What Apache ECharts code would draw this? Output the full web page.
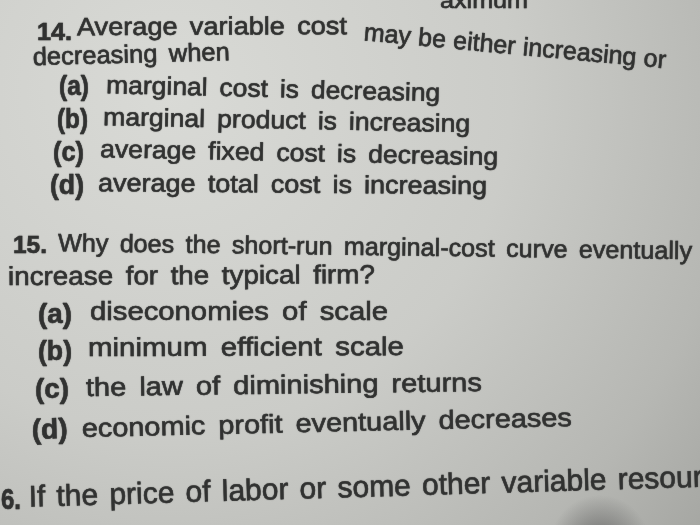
<!DOCTYPE html>
<html><head><meta charset="utf-8">
<script src="https://cdn.jsdelivr.net/npm/echarts@6/dist/echarts.min.js"></script>
<style>html,body{margin:0;padding:0;background:#c9cac6}#c{width:700px;height:525px}</style>
</head><body><div id="c"></div>
<script>
// ---- text content (read from the photographed page) ----
const headerFragment = ['aximum'];
const q14Number = ['14.'];
const q14Stem = ['Average variable cost', 'may be either increasing or', 'decreasing when'];
const q14Labels = ['(a)', '(b)', '(c)', '(d)'];
const q14Choices = ['marginal cost is decreasing', 'marginal product is increasing', 'average fixed cost is decreasing', 'average total cost is increasing'];
const q15Number = ['15.'];
const q15Stem = ['Why does the short-run marginal-cost curve eventually', 'increase for the typical firm?'];
const q15Labels = ['(a)', '(b)', '(c)', '(d)'];
const q15Choices = ['diseconomies of scale', 'minimum efficient scale', 'the law of diminishing returns', 'economic profit eventually decreases'];
const q16Number = ['6.'];
const q16Stem = ['If the price of labor or some other variable resour'];

const allTexts = [].concat(headerFragment, q14Number, q14Stem, q14Labels, q14Choices,
  q15Number, q15Stem, q15Labels, q15Choices, q16Number, q16Stem);

// ---- layout: baseline start x,y, baseline end x,y, font size, bold flag (same order as allTexts) ----
const layout = [
  [440, 10, 528, 10, 22, 0],
  [37, 42, 72, 42, 23, 1],
  [77, 37, 347, 36, 25, 0],
  [363, 42, 665, 70, 25, 0],
  [33, 67, 230, 62, 25, 0],
  [59, 97, 89, 97, 27, 1],
  [57, 130, 88, 130, 27, 1],
  [53, 163, 84, 163, 27, 1],
  [50, 196, 84, 196, 27, 1],
  [106, 95, 440, 103, 25, 0],
  [103, 127, 470, 134, 25, 0],
  [100, 159, 498, 167, 25, 0],
  [98, 193, 487, 196, 25, 0],
  [13, 255, 47, 255, 24, 1],
  [58, 253, 692, 261, 25, 0],
  [8, 287, 375, 285, 26, 0],
  [38, 325, 72, 325, 28, 1],
  [38, 362, 72, 362, 28, 1],
  [35, 400, 69, 400, 28, 1],
  [32, 441, 68, 440, 28, 1],
  [90, 322, 388, 322, 26, 0],
  [88, 358, 404, 357, 26, 0],
  [86, 398, 482, 393, 26, 0],
  [82, 439, 572, 428, 26, 0],
  [1, 511, 21, 511, 30, 1],
  [29, 509, 703, 489, 30, 0]
];

const measureCtx = document.createElement('canvas').getContext('2d');
function measure(text, font) { measureCtx.font = font; return measureCtx.measureText(text).width; }

const INK = '#313231';

function renderItem(params, api) {
  const i = params.dataIndex;
  const p1 = api.coord([api.value(0), api.value(1)]);
  const p2 = api.coord([api.value(2), api.value(3)]);
  const fs = api.value(4);
  const bold = api.value(5);
  const words = allTexts[i].split(' ');
  const font = (bold ? 'bold ' : '') + fs + 'px "Liberation Sans", Arial, sans-serif';
  const widths = words.map(w => measure(w, font));
  const sumW = widths.reduce((a, b) => a + b, 0);
  const dx = p2[0] - p1[0], dy = p2[1] - p1[1];
  const len = Math.hypot(dx, dy);
  const ang = Math.atan2(dy, dx);
  const n = words.length;
  let s = 1, gap = 0;
  if (n === 1) {
    s = len / sumW;
  } else {
    gap = (len - sumW) / (n - 1);
    const lo = 0.28 * fs, hi = 0.45 * fs;
    if (gap < lo) { s = len / (sumW + (n - 1) * lo); gap = lo * s; }
    else if (gap > hi) { s = len / (sumW + (n - 1) * hi); gap = hi * s; }
  }
  const off = 0.35 * fs;
  const ux = Math.cos(ang), uy = Math.sin(ang);
  const children = [];
  let t = 0;
  for (let k = 0; k < n; k++) {
    const bx = p1[0] + ux * t, by = p1[1] + uy * t;
    children.push({
      type: 'text',
      x: bx + uy * off, y: by - ux * off,
      rotation: -ang, scaleX: s,
      style: { text: words[k], font: font, fill: INK, stroke: INK, lineWidth: 0.5,
        align: 'left', verticalAlign: 'middle',
        textShadowColor: 'rgba(40,40,40,0.45)', textShadowBlur: 1.2 }
    });
    t += widths[k] * s + gap;
  }
  return { type: 'group', children: children };
}

const chart = echarts.init(document.getElementById('c'));
chart.setOption({
  animation: false,
  backgroundColor: '#c9cac6',
  grid: { left: 0, right: 0, top: 0, bottom: 0 },
  xAxis: { type: 'value', min: 0, max: 700, show: false },
  yAxis: { type: 'value', min: 0, max: 525, inverse: true, show: false },
  graphic: [
    { type: 'rect', z: -10, silent: true, shape: { x: 0, y: 0, width: 700, height: 525 },
      style: { fill: new echarts.graphic.RadialGradient(170, 90, 760, [
        { offset: 0, color: '#d9dad6' }, { offset: 0.45, color: '#cbccc8' },
        { offset: 0.75, color: '#b6b7b3' }, { offset: 1, color: '#9c9d99' }], true) } },
    { type: 'circle', z: -9, silent: true, shape: { cx: 600, cy: 545, r: 50 },
      style: { fill: new echarts.graphic.RadialGradient(600, 545, 50, [
        { offset: 0, color: 'rgba(80,80,80,0.7)' }, { offset: 1, color: 'rgba(80,80,80,0)' }], true) } }
  ],
  series: [{
    type: 'custom', renderItem: renderItem, silent: true, clip: false,
    encode: { x: [0, 2], y: [1, 3] },
    data: layout
  }]
});
</script></body></html>
